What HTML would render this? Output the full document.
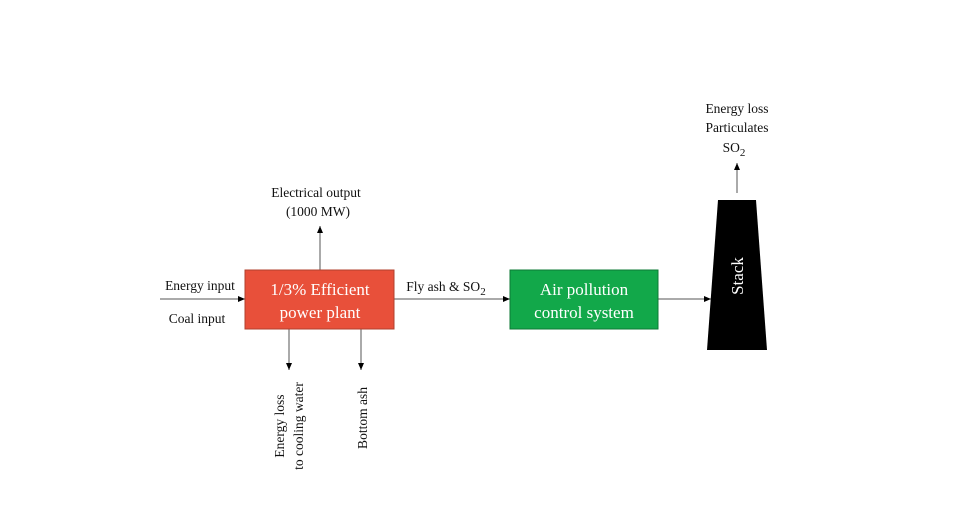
<!DOCTYPE html>
<html><head><meta charset="utf-8"><style>body{margin:0;background:#fff}svg{display:block}</style></head>
<body>
<svg width="956" height="512" viewBox="0 0 956 512" xmlns="http://www.w3.org/2000/svg" font-family="Liberation Serif, serif">
<defs><marker id="a" markerWidth="8" markerHeight="8" refX="7" refY="4" orient="auto" markerUnits="userSpaceOnUse"><path d="M0,1 L7,4 L0,7z" fill="#000"/></marker></defs>
<g stroke="#555" stroke-width="1" fill="none">
<line x1="160" y1="299" x2="245" y2="299" marker-end="url(#a)"/>
<line x1="394" y1="299" x2="510" y2="299" marker-end="url(#a)"/>
<line x1="658" y1="299" x2="711" y2="299" marker-end="url(#a)"/>
<line x1="320" y1="270" x2="320" y2="226" marker-end="url(#a)"/>
<line x1="289" y1="329" x2="289" y2="370" marker-end="url(#a)"/>
<line x1="361" y1="329" x2="361" y2="370" marker-end="url(#a)"/>
<line x1="737" y1="193" x2="737" y2="163" marker-end="url(#a)"/>
</g>
<rect x="245" y="270" width="149" height="59" fill="#e8503a" stroke="#b0402e"/>
<rect x="510" y="270" width="148" height="59" fill="#12a84a" stroke="#0c7a35"/>
<polygon points="718,200 756,200 767,350 707,350" fill="#000"/>
<g fill="#fff" font-size="17" text-anchor="middle">
<text x="320" y="295">1/3% Efficient</text><text x="320" y="318">power plant</text>
<text x="584" y="295">Air pollution</text><text x="584" y="318">control system</text>
<text transform="translate(743,276) rotate(-90)">Stack</text>
</g>
<g fill="#111" font-size="13.5" text-anchor="middle">
<text x="200" y="290">Energy  input</text>
<text x="197" y="323">Coal input</text>
<text x="316" y="197">Electrical output</text>
<text x="318" y="216">(1000 MW)</text>
<text x="446" y="291">Fly ash &amp; SO<tspan font-size="11" dy="4">2</tspan></text>
<text x="737" y="113">Energy  loss</text>
<text x="737" y="132">Particulates</text>
<text x="734" y="152">SO<tspan font-size="11" dy="4">2</tspan></text>
<text transform="translate(284,426) rotate(-90)">Energy loss</text>
<text transform="translate(303,426) rotate(-90)">to cooling water</text>
<text transform="translate(367,418) rotate(-90)">Bottom ash</text>
</g>
</svg>
</body></html>
